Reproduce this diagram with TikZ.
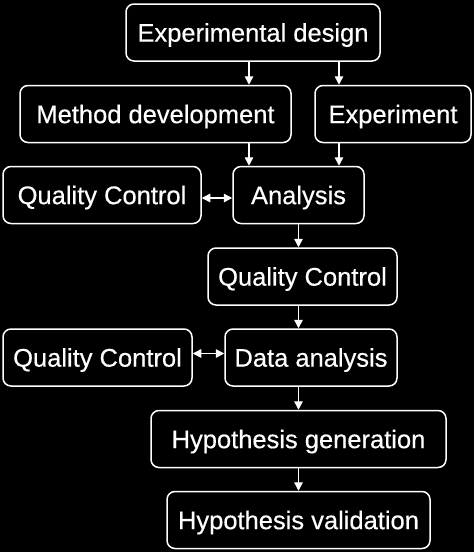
\documentclass[tikz,border=0pt]{standalone}
\usepackage{fontspec}
\setmainfont{Liberation Sans}
\usepackage{tikz}
\usetikzlibrary{arrows.meta}

\tikzset{
  stagebox/.style={draw=white,line width=1.5pt,rounded corners=8pt,text=white,
    minimum height=57pt,inner sep=0pt,text height=18.3pt,text depth=0pt,
    font=\fontsize{25.5}{30}\selectfont\addfontfeature{FakeBold=0.4}},
  flow/.style={draw=white,line width=1.4pt,-{Triangle[length=8.5pt,width=8.5pt]}},
  both/.style={draw=white,line width=1.4pt,{Triangle[length=8.5pt,width=8.5pt]}-{Triangle[length=8.5pt,width=8.5pt]}}
}

\begin{document}
\begin{tikzpicture}[x=1pt,y=-1pt]
                \fill[black] (0,0) rectangle (474,552);
                \useasboundingbox (0,0) rectangle (474,552);

                \node[stagebox,minimum width=254pt] (design) at (253,32.5) {Experimental design};
                \node[stagebox,minimum width=271pt] (method) at (155.5,114) {Method development};
                \node[stagebox,minimum width=156pt] (experiment) at (393,114) {Experiment};
                \node[stagebox,minimum width=198pt] (qcA) at (102,195) {Quality Control};
                \node[stagebox,minimum width=131pt] (analysis) at (298.5,195) {Analysis};
                \node[stagebox,minimum width=189pt] (qcB) at (302.5,276.5) {Quality Control};
                \node[stagebox,minimum width=189pt] (qcC) at (97.5,357.5) {Quality Control};
                \node[stagebox,minimum width=172pt] (data) at (311,357.5) {Data analysis};
                \node[stagebox,minimum width=295pt] (hypgen) at (298.5,439) {Hypothesis generation};
                \node[stagebox,minimum width=263pt] (hypval) at (298.5,520) {Hypothesis validation};

                \coordinate (lft) at (249,0);
                \coordinate (rgt) at (339,0);

                \draw[flow] (design.south -| lft) -- (method.north -| lft);
                \draw[flow] (design.south -| rgt) -- (experiment.north -| rgt);
                \draw[flow] (method.south -| lft) -- (analysis.north -| lft);
                \draw[flow] (experiment.south -| rgt) -- (analysis.north -| rgt);
                \draw[both] ([yshift=-3pt]qcA.east) -- ([yshift=-3pt]analysis.west);
                \draw[flow] (analysis.south) -- (analysis.south |- qcB.north);
                \draw[flow] (analysis.south |- qcB.south) -- (analysis.south |- data.north);
                \draw[both] ([yshift=4pt]qcC.east) -- ([yshift=4pt]data.west);
                \draw[flow] (analysis.south |- data.south) -- (hypgen.north);
                \draw[flow] (hypgen.south) -- (hypval.north);
\end{tikzpicture}
\end{document}
